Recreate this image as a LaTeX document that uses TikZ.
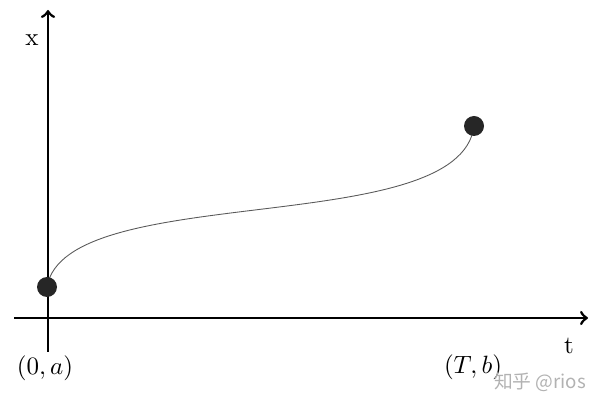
\documentclass[tikz,border=0pt]{standalone}
\usepackage{fontspec}
\newfontfamily\cjk{Noto Sans CJK SC}
\begin{document}
\begin{tikzpicture}[x=0.4pt,y=-0.4pt]
\useasboundingbox (0,0) rectangle (600,405);

\coordinate (tl) at (14,318);
\coordinate (tr) at (588,318);
\coordinate (xb) at (48,352);
\coordinate (xt) at (48,10);
\node (a) at (47,287) {};
\node (b) at (474,126) {};

\draw[line width=1.1pt,->] (tl) -- (tr);
\draw[line width=1.1pt,->] (xb) -- (xt);
\node (xlab) at (32,40) {x};
\node (tlab) at (569,346) {t};

\draw[black!65,line width=0.35pt] (a.center) .. controls (65,180) and (460,240) .. (b.center);
\fill[black!85] (a) circle (10);
\fill[black!85] (b) circle (10);

\node (alab) at (45,368) {$(0,a)$};
\node (blab) at (473,367) {$(T,b)$};

\node[text=black!30] (mark) at (540,382) {\cjk\fontsize{7.5}{9}\selectfont 知乎 @rios};

\end{tikzpicture}
\end{document}
